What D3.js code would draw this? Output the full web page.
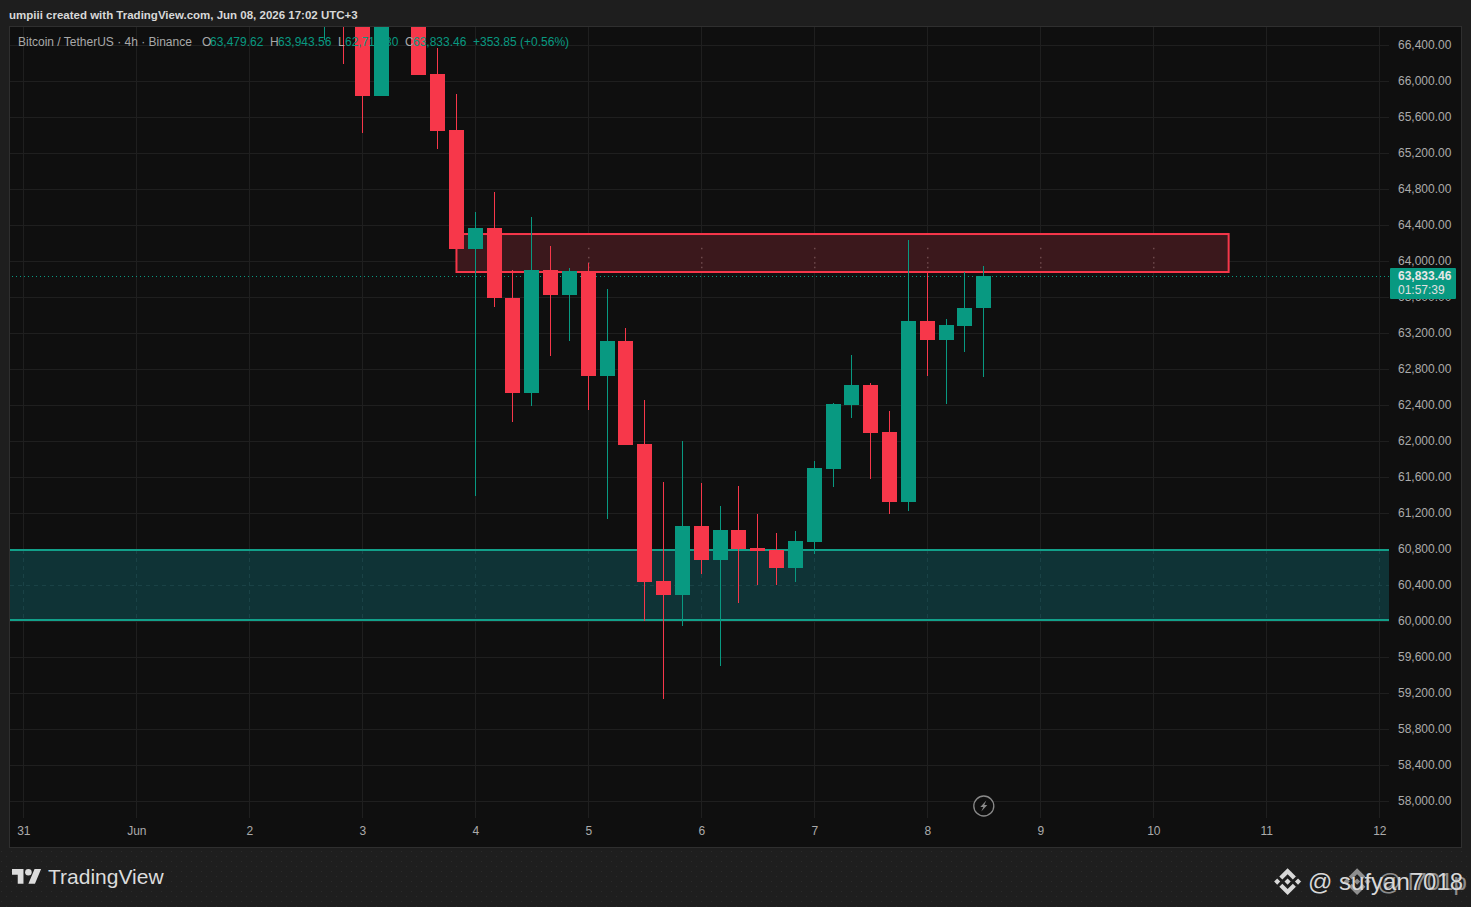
<!DOCTYPE html>
<html>
<head>
<meta charset="utf-8">
<script src="https://cdn.jsdelivr.net/npm/d3@7"></script>
<style>
  html, body { margin: 0; padding: 0; background: #1e1e1e; overflow: hidden; }
  text { font-family: "Liberation Sans", Arial, sans-serif; }
</style>
</head>
<body>
<div id="chart"></div>
<script>
// 4h bars, first one at Jun 2 16:00. Values above the visible window are estimates
const opens  = [66900, 67300, 67100, 65837, 67300, 66900, 66081, 65459, 64137, 64370, 63596, 62537, 63903, 63626, 63892, 62726, 63114, 61970, 60448, 60292, 61059, 60681, 61014, 60814, 60792, 60592, 60881, 61692, 62403, 62626, 62103, 61326, 63337, 63126, 63281, 63479.62];
const highs  = [67300, 67400, 67200, 67500, 67700, 67300, 66367, 65859, 64548, 64770, 63903, 64492, 64170, 63926, 63981, 63692, 63259, 62459, 61548, 62003, 61537, 61281, 61503, 61192, 60981, 61003, 61781, 62426, 62959, 62648, 62337, 64237, 63870, 63359, 63881, 63943.56];
const lows   = [66459, 66192, 65426, 65837, 67000, 66070, 65248, 64137, 61392, 63496, 62214, 62392, 62948, 63114, 62348, 61137, 61959, 60003, 59137, 59948, 60526, 59503, 60203, 60403, 60403, 60437, 60748, 61492, 62259, 61581, 61192, 61226, 62726, 62414, 62992, 62710.30];
const closes = [67100, 67000, 65837, 67300, 67600, 66070, 65451, 64137, 64370, 63596, 62537, 63903, 63626, 63892, 62726, 63114, 61959, 60437, 60292, 61059, 60681, 61014, 60803, 60781, 60592, 60892, 61703, 62414, 62626, 62092, 61326, 63337, 63126, 63292, 63481, 63833.46];

const priceTicks = d3.range(58000, 66800, 400);
const dayTicks = d3.range(0, 13).map(d => new Date(Date.UTC(2026, 4, 31 + d)));
const firstBar = new Date(Date.UTC(2026, 5, 2, 16));

const supplyZone = { top: 64303, bottom: 63881, from: new Date(Date.UTC(2026, 5, 3, 20)), to: new Date(Date.UTC(2026, 5, 10, 16)) };
const demandZone = { top: 60792, bottom: 60014 };
const supplyDots = [64150, 64050, 63990, 63940];

const lastPrice = 63833.46;
const countdown = "01:57:39";

const RED = "#f7374a", GREEN = "#089981";
const W = 1471, H = 907;
const plot = { LEFT: 10, RIGHT: 1389, TOP: 27, BOTTOM: 818, FRAME_R: 1461, FRAME_B: 847 };

const svg = d3.select("#chart").append("svg").attr("width", W).attr("height", H).style("display", "block");

const defs = svg.append("defs");
const pat = defs.append("pattern").attr("id", "dots").attr("width", 10).attr("height", 10).attr("patternUnits", "userSpaceOnUse");
pat.append("rect").attr("x", 1).attr("y", 1).attr("width", 1).attr("height", 1).attr("fill", "#2b2b2b");
pat.append("rect").attr("x", 6).attr("y", 6).attr("width", 1).attr("height", 1).attr("fill", "#2b2b2b");
defs.append("clipPath").attr("id", "plotClip").append("rect")
  .attr("x", plot.LEFT).attr("y", plot.TOP).attr("width", plot.RIGHT - plot.LEFT).attr("height", plot.FRAME_B - plot.TOP);

//fondo
svg.append("rect").attr("width", W).attr("height", H).attr("fill", "#1e1e1e");
svg.append("rect").attr("y", 850).attr("width", W).attr("height", H - 850).attr("fill", "url(#dots)");
svg.append("rect")
  .attr("x", plot.LEFT - 0.5).attr("y", plot.TOP - 0.5)
  .attr("width", plot.FRAME_R - plot.LEFT + 1).attr("height", plot.FRAME_B - plot.TOP + 1)
  .attr("fill", "#0f0f0f").attr("stroke", "#2f2f2f");

svg.append("text").attr("x", 9).attr("y", 19)
  .attr("font-size", 11.5).attr("font-weight", 700).attr("fill", "#d8d8d8")
  .text("umpiii created with TradingView.com, Jun 08, 2026 17:02 UTC+3");

//escalas
const x = d3.scaleUtc().domain([dayTicks[0], dayTicks[12]]).range([23.3, 1379.3]);
const y = d3.scaleLinear().domain([58000, 66400]).range([801.3, 45.3]);

//grid
const gridColor = "#1f1f1f";
const grid = svg.append("g").attr("shape-rendering", "crispEdges");
grid.selectAll(".gy").data(priceTicks).enter().append("line")
  .attr("x1", plot.LEFT).attr("x2", plot.RIGHT)
  .attr("y1", d => y(d)).attr("y2", d => y(d))
  .attr("stroke", gridColor);
grid.selectAll(".gx").data(dayTicks).enter().append("line")
  .attr("x1", d => x(d)).attr("x2", d => x(d))
  .attr("y1", plot.TOP).attr("y2", plot.BOTTOM)
  .attr("stroke", gridColor);

//zonas
const zones = svg.append("g");
zones.append("rect")
  .attr("x", plot.LEFT).attr("width", plot.RIGHT - plot.LEFT)
  .attr("y", y(demandZone.top)).attr("height", y(demandZone.bottom) - y(demandZone.top))
  .attr("fill", "#0f3336");
zones.selectAll(".zoneDash").data(dayTicks).enter().append("line")
  .attr("x1", d => x(d)).attr("x2", d => x(d))
  .attr("y1", y(demandZone.top)).attr("y2", y(demandZone.bottom))
  .attr("stroke", "#1a4246").attr("stroke-dasharray", "4 4").attr("shape-rendering", "crispEdges");
zones.append("line")
  .attr("x1", plot.LEFT).attr("x2", plot.RIGHT)
  .attr("y1", y(60400)).attr("y2", y(60400))
  .attr("stroke", "#1a4246").attr("stroke-dasharray", "4 4").attr("shape-rendering", "crispEdges");
[demandZone.top, demandZone.bottom].forEach(p => {
  zones.append("line")
    .attr("x1", plot.LEFT).attr("x2", plot.RIGHT)
    .attr("y1", y(p)).attr("y2", y(p))
    .attr("stroke", "#12a08a").attr("stroke-width", 2);
});

zones.append("rect")
  .attr("x", x(supplyZone.from)).attr("width", x(supplyZone.to) - x(supplyZone.from))
  .attr("y", y(supplyZone.top)).attr("height", y(supplyZone.bottom) - y(supplyZone.top))
  .attr("fill", "#3b181c").attr("stroke", RED).attr("stroke-width", 2);
dayTicks.slice(5, 11).forEach(day => {
  zones.selectAll(null).data(supplyDots).enter().append("rect")
    .attr("x", Math.floor(x(day))).attr("y", d => y(d))
    .attr("width", 1.5).attr("height", 1.5).attr("fill", "#6e4a4d");
});

//linea de ultimo precio
svg.append("line")
  .attr("x1", plot.LEFT + 2).attr("x2", plot.RIGHT)
  .attr("y1", Math.round(y(lastPrice)) + 0.5).attr("y2", Math.round(y(lastPrice)) + 0.5)
  .attr("stroke", GREEN).attr("stroke-dasharray", "1 3");

//velas
const bars = opens.map((o, i) => ({
  t: d3.utcHour.offset(firstBar, i * 4), o: o, h: highs[i], l: lows[i], c: closes[i]
}));
const candles = svg.append("g").attr("clip-path", "url(#plotClip)").attr("shape-rendering", "crispEdges");
candles.selectAll(".wick").data(bars).enter().append("rect")
  .attr("class", "wick")
  .attr("x", d => Math.floor(x(d.t))).attr("width", 1)
  .attr("y", d => y(d.h)).attr("height", d => y(d.l) - y(d.h))
  .attr("fill", d => d.c >= d.o ? GREEN : RED);
candles.selectAll(".body").data(bars).enter().append("rect")
  .attr("class", "body")
  .attr("x", d => Math.floor(x(d.t)) - 7).attr("width", 15)
  .attr("y", d => y(Math.max(d.o, d.c))).attr("height", d => Math.max(1, Math.abs(y(d.o) - y(d.c))))
  .attr("fill", d => d.c >= d.o ? GREEN : RED);

//ejes
const yAxis = d3.axisRight(y).tickValues(priceTicks).tickSize(0).tickPadding(0).tickFormat(d3.format(",.2f"));
const gy = svg.append("g").attr("transform", "translate(1398,-1)").call(yAxis);
const dayFormat = d => d.getUTCDate() === 1 ? "Jun" : String(d.getUTCDate());
const xAxis = d3.axisBottom(x).tickValues(dayTicks).tickSize(0).tickPadding(0).tickFormat(dayFormat);
const gx = svg.append("g").attr("transform", "translate(0,826)").call(xAxis);
[gy, gx].forEach(g => {
  g.select(".domain").remove();
  g.selectAll("text").attr("fill", "#ababab").attr("font-size", 12).attr("font-family", '"Liberation Sans", Arial, sans-serif');
});

//etiqueta de precio
svg.append("rect").attr("x", 1390).attr("y", 268).attr("width", 66).attr("height", 31).attr("rx", 1).attr("fill", GREEN);
svg.append("text").attr("x", 1398).attr("y", 280).attr("font-size", 12).attr("font-weight", 700).attr("fill", "#e8e8e8")
  .text(d3.format(",.2f")(lastPrice));
svg.append("text").attr("x", 1398).attr("y", 294).attr("font-size", 12).attr("fill", "#e0e0e0").text(countdown);

//leyenda (va encima de las velas)
const legend = svg.append("g").attr("font-size", 12);
const legendGrey = "#a9a9a9";
[
  [18, "Bitcoin / TetherUS · 4h · Binance", legendGrey],
  [202, "O", legendGrey], [210, "63,479.62", GREEN],
  [270, "H", legendGrey], [278, "63,943.56", GREEN],
  [338, "L", legendGrey], [345, "62,710.30", GREEN],
  [405, "C", legendGrey], [413, "63,833.46", GREEN],
  [473, "+353.85 (+0.56%)", GREEN]
].forEach(d => {
  legend.append("text").attr("x", d[0]).attr("y", 46).attr("fill", d[2]).text(d[1]);
});

//icono rayo
const bolt = svg.append("g").attr("transform", `translate(${x(new Date(Date.UTC(2026, 5, 8, 12)))},806)`);
bolt.append("circle").attr("r", 10).attr("fill", "#0f0f0f").attr("stroke", "#8a8a8a").attr("stroke-width", 1.3);
bolt.append("path").attr("d", "M2.5,-5.5 L-3.5,1 L-0.5,1 L-2.5,5.5 L3.5,-1 L0.5,-1 Z").attr("fill", "#8a8a8a");

//logo TradingView
const logo = svg.append("g").attr("transform", "translate(12,865.7) scale(0.82)").attr("fill", "#dcdcdc");
logo.append("path").attr("d", "M14 22H7V11H0V4h14v18zM28 22h-8l7.5-18h8L28 22z");
logo.append("circle").attr("cx", 20).attr("cy", 8).attr("r", 4);
svg.append("text").attr("x", 48).attr("y", 884).attr("font-family", "Inter").attr("font-size", 21).attr("font-weight", 500)
  .attr("fill", "#dcdcdc").text("TradingView");

//marcas de agua
const binance = "M38.73 53.2L63 28.93 87.29 53.22 101.42 39.09 63 .67 24.6 39.07zM.67 63L14.8 48.87 28.93 63 14.8 77.13zM38.73 72.8L63 97.07 87.29 72.78 101.42 86.9 63 125.33 24.58 86.92zM97.07 63L111.2 48.87 125.33 63 111.2 77.13zM77.33 63L63 48.65 48.67 62.98 63 77.33z";
[[1274, "@ sufyan7018", 1308, 1], [1343.5, "@ l701p", 1377, 0.6]].forEach(d => {
  svg.append("path").attr("d", binance).attr("fill", "#d8d8d8").attr("opacity", d[3])
    .attr("transform", `translate(${d[0]},868) scale(0.216)`);
  svg.append("text").attr("x", d[2]).attr("y", 890).attr("font-size", 24).attr("fill", "#d8d8d8").attr("opacity", d[3]).text(d[1]);
});
</script>
</body>
</html>
